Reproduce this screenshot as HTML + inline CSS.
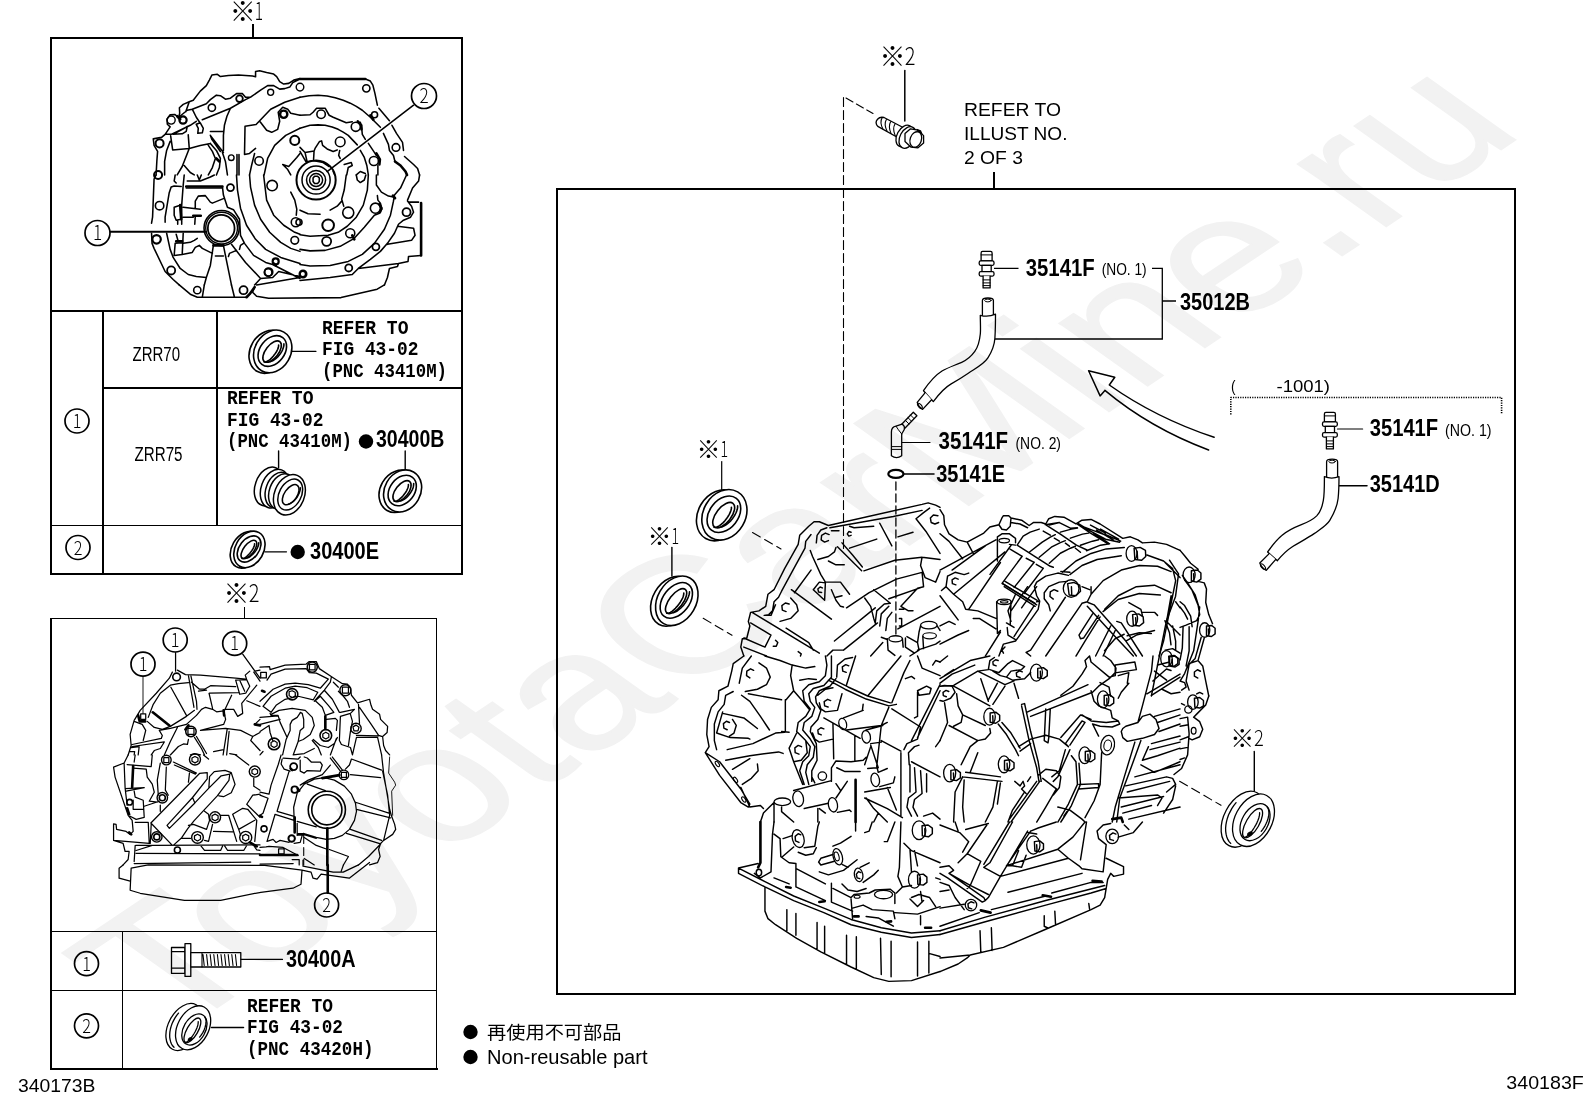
<!DOCTYPE html>
<html lang="ja"><head><meta charset="utf-8"><title>340173B</title>
<style>
html,body{margin:0;padding:0;background:#fff;}
body{width:1592px;height:1099px;overflow:hidden;}
svg{display:block;}
.s{font-family:"Liberation Sans","Noto Sans CJK JP",sans-serif;}
.m{font-family:"Liberation Mono",monospace;font-weight:bold;}
.b{font-family:"Liberation Sans",sans-serif;font-weight:bold;}
.ln{stroke:#000;fill:none;}
.d{stroke:#000;fill:none;stroke-width:1.3;stroke-linecap:round;stroke-linejoin:round;}
.d .w{fill:#fff;}
.d .k{fill:#000;}
</style></head><body>
<svg width="1592" height="1099" viewBox="0 0 1592 1099">
<rect width="1592" height="1099" fill="#fff"/>
<!-- frames -->
<g class="ln" stroke-width="2" shape-rendering="crispEdges">
<!-- box 1 -->
<path d="M51 37V575M50 574H462.500M50 38H462.500"/>
<line x1="461.700" y1="37" x2="461.700" y2="575" stroke-width="1.6"/>
<line x1="51" y1="311" x2="462" y2="311"/>
<line x1="103" y1="311" x2="103" y2="574"/>
<line x1="217" y1="311" x2="217" y2="525"/>
<line x1="103" y1="388" x2="462" y2="388"/>
<line x1="51" y1="525.5" x2="462" y2="525.5" stroke-width="1.2"/>
<line x1="253" y1="24" x2="253" y2="38" stroke-width="1.5"/>
<!-- box 2 -->
<path d="M51 618V1069.500M50 1068.500H437.500"/>
<path d="M50 618.500H437M436.500 618V1069" stroke-width="1.2"/>
<line x1="51" y1="931.500" x2="436" y2="931.500" stroke-width="1"/>
<line x1="51" y1="990.500" x2="436" y2="990.500" stroke-width="1"/>
<line x1="122.500" y1="931" x2="122.500" y2="1068" stroke-width="1"/>
<line x1="244.300" y1="607" x2="244.300" y2="619" stroke-width="1.5"/>
<!-- main box -->
<path d="M556.500 188V994.500M555.500 993.500H1516"/>
<path d="M555.500 189H1516M1515 188V994.500" stroke-width="1.6"/>
<line x1="994" y1="172" x2="994" y2="189" stroke-width="1.5"/>
</g>

<!-- box1 -->
<g class="d">
<g transform="translate(140 65) scale(0.10050)" stroke-width="15.42">
<path d="M160 1094 L168 950 L175 860 L140 800 L132 735 L215 720 L250 690 L300 615 L272 590 L268 540 L300 495 L345 492 L385 520 L395 480 L392 425 L430 392 L490 365 L530 350 L600 260 L660 205 L690 150 L715 100 L770 93 L800 115 L880 105 L980 100 L1120 110 L1150 117 L1150 65 L1190 58 L1260 75 L1330 90 L1360 115 L1390 165 L1430 190 L1480 183 L1530 150 L1592 135 M490 365 L455 465 M385 520 L470 450 L520 440 L660 385 L700 345 L760 300 L800 305 L850 340 L900 330 L960 285 L1020 285 L1050 320 L1100 320 L1200 250 L1270 205 L1330 205 L1390 240 L1440 235 L1490 220 L1520 175 L1592 140 M520 440 L560 520 L600 580 M620 545 L900 430 L1050 345 L1110 315 M250 690 L310 690 L460 620 L500 600 L560 560 M305 705 L325 845 L490 830 L480 695 M330 690 L440 630 L470 612 L460 660 L420 685 Z M560 590 L600 575 L630 630 L620 675 L575 680 L580 630 Z M300 760 L265 850 L245 960 L245 1094 M490 830 L600 800 L700 780 M490 830 L420 1010 L370 1094 M440 1000 L500 1070 L540 1094 M680 800 L720 860 L750 930 L720 1020 L680 1094 M700 780 L760 850 L800 930 L790 1020 L760 1094 M900 430 L865 510 L840 600 L830 700 L830 850 M820 870 L850 960 L870 1094 M700 662 L825 662 M700 700 L830 870 M715 740 L800 860 M700 700 L715 740 M965 890 L965 1094 M985 890 L985 1094 M1045 610 L1155 592 L1300 440 L1440 370 L1592 320 M1045 610 L1040 890 L1090 880 L1150 830 M1195 565 L1260 650 L1310 670 L1370 640 L1390 560 L1375 470 L1420 420 L1470 440 L1500 480 L1592 500 M1592 630 L1450 700 L1340 800 L1270 930 L1235 1094 M1140 880 L1110 1000 L1090 1094 M1592 880 L1560 920 L1480 1010 L1420 990 L1470 1040 L1500 1094"/>
<path d="M370 510 L400 540 M760 930 L790 960" stroke-width="25.9"/>
<circle cx="310" cy="548" r="40" stroke-width="13.9"/>
<circle cx="428" cy="548" r="36" stroke-width="21.9"/>
<circle cx="715" cy="425" r="36" stroke-width="15.9"/>
<circle cx="990" cy="335" r="33" stroke-width="17.9"/>
<circle cx="1300" cy="272" r="30" stroke-width="13.9"/>
<circle cx="1592" cy="220" r="38" stroke-width="13.9"/>
<circle cx="195" cy="780" r="40" stroke-width="19.9"/>
<circle cx="180" cy="1094" r="40" stroke-width="19.9"/>
<circle cx="1430" cy="490" r="36" stroke-width="23.9"/>
<circle cx="1540" cy="750" r="45" stroke-width="19.9"/>
<circle cx="908" cy="922" r="28" stroke-width="13.9"/>
<circle cx="1185" cy="955" r="42" stroke-width="15.9"/>
</g>
<g transform="translate(300 65) scale(0.10050)" stroke-width="15.42">
<path d="M650 140 L700 160 L725 200 L745 280 L770 400 M785 430 L890 555 M915 600 L960 680 L1020 770 L1030 850 M1040 910 L1130 990 L1170 1030 L1190 1094 M0 320 L90 305 L180 300 L270 308 L350 325 L430 350 L500 380 L560 412 L620 450 L700 520 L800 620 M830 680 L880 790 L890 850 L930 900 L945 960 M0 500 L100 495 L130 470 L165 430 L250 430 L290 500 L330 520 L460 575 L520 565 M600 570 L615 640 L620 690 L650 740 M0 630 L100 600 L180 596 L250 600 L320 616 L380 640 L430 668 L480 700 L570 795 M150 830 L195 760 L215 755 L225 800 L270 835 L330 860 L370 845 M395 850 L385 900 L400 930 M0 820 L50 870 L140 855 L150 830 M50 870 L70 960 M140 855 L135 940 M0 860 L60 965 L130 950 L230 970 L290 1010 M600 850 L640 920 L665 1000 L680 1094 M680 780 L740 870 L760 900 M775 1000 L775 1094 M440 990 L510 970 L520 1000 L480 1020 L465 1094 M330 1060 L345 1094 M560 1094 L600 1060 L650 1080 M1130 400 L270 1060"/>
<path d="M0 140 L650 140 M945 960 L1000 1000 L1050 1060 L1065 1094 M575 560 L610 600 L612 640 M760 880 L795 940 L790 990 M700 500 L730 545" stroke-width="25.9"/>
<circle cx="660" cy="232" r="36" stroke-width="15.9"/>
<circle cx="742" cy="495" r="30" stroke-width="15.9"/>
<circle cx="210" cy="490" r="42" stroke-width="15.9"/>
<circle cx="555" cy="615" r="45" stroke-width="15.9"/>
<circle cx="400" cy="765" r="48" stroke-width="15.9"/>
<circle cx="735" cy="955" r="45" stroke-width="15.9"/>
<circle cx="955" cy="820" r="38" stroke-width="15.9"/>
</g>
<g transform="translate(140 175) scale(0.10050)" stroke-width="15.42">
<path d="M160 0 L140 40 L130 300 L125 420 L115 480 M115 580 L120 680 L140 730 L250 960 L330 1040 L390 1094 M250 470 L250 420 L290 180 L310 120 L340 110 L410 115 M265 580 L300 740 L330 820 L400 930 L480 990 L560 1010 L660 1020 M350 0 L340 60 L360 80 M440 0 L430 100 L415 300 L415 490 M430 580 L420 790 M460 130 L820 130 M470 60 L600 60 L700 20 L740 0 M570 0 L590 50 L610 0 M550 330 L550 260 L580 210 L650 205 L700 270 L720 280 L830 235 M820 115 L830 200 L870 320 L930 345 L990 440 L1000 600 L1040 680 L1130 800 L1250 870 L1320 890 M340 320 L400 300 L410 440 L360 450 L340 400 Z M430 320 L600 340 M430 420 L530 420 M550 410 L545 490 M375 450 L375 490 M960 0 L970 150 L1000 330 L1060 500 L1150 640 L1250 740 L1400 820 L1592 880 M1090 0 L1100 120 L1140 300 L1200 440 L1290 570 L1400 670 L1500 730 L1592 760 M1230 0 L1260 250 L1330 400 L1430 500 L1540 570 L1592 590 M1500 170 L1540 250 L1560 340 L1555 400 M730 700 L700 900 L660 1020 L640 1094 M830 700 L850 800 L910 1094 M750 805 L830 805 M910 690 L1050 870 L1200 1030 L1140 1094 M880 810 L890 780 L960 750 M990 740 L1000 700 L1030 680 M350 680 L340 800 L420 790 L520 770 L550 720 L590 700 L620 730 L720 780 M430 680 L500 670 L540 650 L570 630 M350 680 L420 675 M360 590 L380 660 M1320 890 L1592 1030 M1200 1030 L1320 1020 L1380 960 L1592 1010 M1160 1094 L1592 1020"/>
<path d="M460 115 L820 115 M730 700 L830 700 M530 405 L605 405 M400 300 L410 440 M360 660 L420 660 M1330 880 L1350 900" stroke-width="25.9"/>
<circle cx="195" cy="305" r="42" stroke-width="15.9"/>
<circle cx="900" cy="125" r="35" stroke-width="17.9"/>
<circle cx="1315" cy="105" r="52" stroke-width="15.9"/>
<circle cx="1550" cy="470" r="45" stroke-width="15.9"/>
<circle cx="1540" cy="650" r="38" stroke-width="15.9"/>
<circle cx="165" cy="640" r="42" stroke-width="21.9"/>
<circle cx="310" cy="950" r="40" stroke-width="17.9"/>
<circle cx="1350" cy="860" r="30" stroke-width="21.9"/>
<circle cx="1275" cy="970" r="38" stroke-width="15.9"/>
<circle cx="812" cy="528" r="175" stroke-width="15.9"/>
<circle cx="812" cy="528" r="158" stroke-width="13.9"/>
<circle cx="808" cy="530" r="133" stroke-width="17.9"/>
</g>
<g transform="translate(300 175) scale(0.10050)" stroke-width="15.42">
<path d="M460 0 L440 150 L415 240 L435 310 M300 350 L370 310 L415 260 M0 350 L80 385 L200 390 M560 0 L570 50 L600 75 L640 50 L655 0 M680 0 L670 150 L630 300 L560 420 L470 510 L380 570 L280 600 L100 610 L0 595 M760 0 L760 100 L810 170 L880 210 L930 220 M1060 0 L1000 130 L940 200 L930 260 L900 400 L840 540 L740 680 L620 790 L480 860 L300 900 L100 905 L0 890 M770 205 L775 250 L800 280 L815 340 L790 380 L740 400 L640 520 L540 630 L400 710 L250 750 L100 755 L0 740 M1190 0 L1180 60 L1120 130 L1070 250 M1070 260 L1110 310 L1130 370 L1100 420 L1030 450 L980 490 L940 580 L870 680 L800 760 L700 840 L580 930 L520 990 L300 1020 L0 1050 M1080 270 L1180 270 M1205 800 L1080 810 L1075 860 L980 880 L970 910 L890 930 L870 1020 L840 1094 M580 930 L980 880 M970 510 L1130 530 L1145 600 L1110 650 L870 690 M130 30 L145 12 L175 12 L192 30 L192 65 L175 85 L145 85 L130 65 Z"/>
<path d="M1205 280 L1205 800 M790 290 L810 330 L795 370 M925 205 L945 230 M520 600 L540 640" stroke-width="25.9"/>
<circle cx="480" cy="375" r="55" stroke-width="15.9"/>
<circle cx="280" cy="500" r="58" stroke-width="19.9"/>
<circle cx="500" cy="580" r="45" stroke-width="15.9"/>
<circle cx="265" cy="660" r="45" stroke-width="17.9"/>
<circle cx="750" cy="330" r="50" stroke-width="15.9"/>
<circle cx="1060" cy="370" r="40" stroke-width="17.9"/>
<circle cx="755" cy="715" r="35" stroke-width="17.9"/>
<circle cx="485" cy="925" r="35" stroke-width="17.9"/>
<circle cx="30" cy="985" r="35" stroke-width="19.9"/>
<circle cx="-10" cy="470" r="30" stroke-width="15.9"/>
<circle cx="160" cy="50" r="195" stroke-width="19.9"/>
<circle cx="160" cy="50" r="140" stroke-width="14.9"/>
<circle cx="160" cy="50" r="95" stroke-width="14.9"/>
<circle cx="160" cy="50" r="65" stroke-width="14.9"/>
</g>
<g transform="translate(140 255) scale(0.20101)" stroke-width="7.71">
<path d="M195 149 L250 195 L285 210 L530 210 M320 149 L310 210 M455 149 L470 210 M570 160 L560 185 L580 205 L640 215 L1000 212 L1180 170 L1216 149"/>
<path d="M530 210 L545 195 L570 160" stroke-width="12.9"/>
<circle cx="285" cy="175" r="18" stroke-width="8.0"/>
<circle cx="515" cy="175" r="20" stroke-width="9.0"/>
<circle cx="640" cy="85" r="20" stroke-width="9.0"/>
<circle cx="810" cy="95" r="14" stroke-width="8.0"/>
</g>
</g>

<!-- box1parts -->
<g class="d">
<g stroke-width="1.6">
<ellipse class="w" cx="268.2" cy="351.8" rx="18.0" ry="22.5" transform="rotate(30 268.2 351.8)"/>
<ellipse class="w" cx="272.7" cy="351.4" rx="18.0" ry="22.3" transform="rotate(30 272.7 351.4)"/>
<ellipse class="w" cx="272.3" cy="351.0" rx="12.3" ry="17.0" transform="rotate(38 272.3 351.0)"/>
<ellipse class="w" cx="272.1" cy="351.6" rx="6.4" ry="12.6" transform="rotate(38 272.1 351.6)"/>
<polyline points="278.6,345.0 278.6,346.2 278.3,347.6 277.7,349.2 276.9,351.0 275.8,352.8 274.5,354.6 273.2,356.3 271.7,357.9 270.2,359.3 268.7,360.5 267.3,361.3 266.0,361.8 264.9,362.0 264.0,361.9"/>
<polyline points="283.9,343.9 283.9,345.3 283.6,346.8 283.1,348.3 282.5,350.0 281.7,351.6 280.7,353.2 279.5,354.8 278.3,356.3 276.9,357.6 275.5,358.9 274.1,359.9 272.7,360.7 271.3,361.3 270.0,361.7"/>
</g>
<line x1="292.0" y1="351.3" x2="316.0" y2="351.3" stroke-width="1.2"/>
<g stroke-width="1.5">
<ellipse class="w" cx="268.7" cy="486.5" rx="13.5" ry="20.0" transform="rotate(20 268.7 486.5)"/>
<ellipse class="w" cx="274.7" cy="488.7" rx="13.5" ry="20.0" transform="rotate(20 274.7 488.7)"/>
<ellipse class="w" cx="278.2" cy="490.1" rx="12.3" ry="18.3" transform="rotate(20 278.2 490.1)"/>
<ellipse class="w" cx="281.7" cy="491.5" rx="12.3" ry="18.3" transform="rotate(20 281.7 491.5)"/>
<ellipse class="w" cx="289.4" cy="494.8" rx="15.0" ry="21.0" transform="rotate(22 289.4 494.8)"/>
<ellipse class="w" cx="290.2" cy="494.6" rx="11.0" ry="16.5" transform="rotate(28 290.2 494.6)"/>
<ellipse class="w" cx="290.7" cy="494.7" rx="6.3" ry="11.5" transform="rotate(35 290.7 494.7)"/>
<polyline points="300.3,487.7 300.3,488.9 300.1,490.2 299.7,491.6 299.2,493.1 298.5,494.5 297.7,496.0 296.8,497.5 295.8,498.8 294.7,500.1 293.5,501.2 292.3,502.2 291.1,503.0 290.0,503.6 288.8,504.0"/>
</g>
<line x1="278.6" y1="451.0" x2="278.6" y2="467.5" stroke-width="1.4"/>
<g stroke-width="1.6">
<ellipse class="w" cx="398.1" cy="491.3" rx="18.0" ry="22.1" transform="rotate(30 398.1 491.3)"/>
<ellipse class="w" cx="402.6" cy="490.9" rx="18.0" ry="21.9" transform="rotate(30 402.6 490.9)"/>
<ellipse class="w" cx="402.2" cy="490.5" rx="12.3" ry="16.7" transform="rotate(38 402.2 490.5)"/>
<ellipse class="w" cx="402.0" cy="491.1" rx="6.4" ry="12.3" transform="rotate(38 402.0 491.1)"/>
<polyline points="408.4,484.6 408.4,485.8 408.1,487.2 407.5,488.8 406.7,490.6 405.7,492.3 404.4,494.1 403.1,495.8 401.6,497.4 400.1,498.7 398.7,499.8 397.3,500.7 396.0,501.2 394.9,501.3 394.1,501.2"/>
<polyline points="413.7,483.6 413.6,485.0 413.4,486.4 413.0,488.0 412.3,489.6 411.5,491.2 410.5,492.8 409.4,494.3 408.2,495.8 406.9,497.1 405.5,498.3 404.1,499.3 402.7,500.1 401.4,500.7 400.1,501.0"/>
</g>
<line x1="405.2" y1="451.0" x2="405.2" y2="469.5" stroke-width="1.4"/>
<g stroke-width="1.6">
<ellipse class="w" cx="245.9" cy="549.7" rx="14.2" ry="19.6" transform="rotate(30 245.9 549.7)"/>
<ellipse class="w" cx="249.4" cy="549.4" rx="14.2" ry="19.4" transform="rotate(30 249.4 549.4)"/>
<ellipse class="w" cx="249.1" cy="549.0" rx="9.7" ry="14.8" transform="rotate(38 249.1 549.0)"/>
<ellipse class="w" cx="248.9" cy="549.5" rx="5.1" ry="11.0" transform="rotate(38 248.9 549.5)"/>
<polyline points="254.6,543.7 254.5,544.7 254.2,545.9 253.7,547.3 252.9,548.8 252.0,550.4 250.9,551.9 249.7,553.5 248.4,554.8 247.1,556.1 245.9,557.1 244.7,557.9 243.6,558.3 242.7,558.5 242.0,558.4"/>
<polyline points="258.8,542.7 258.7,543.8 258.5,545.1 258.0,546.4 257.4,547.8 256.7,549.2 255.8,550.6 254.8,552.0 253.7,553.3 252.6,554.5 251.4,555.5 250.2,556.5 249.0,557.2 247.8,557.8 246.8,558.1"/>
</g>
<line x1="265.0" y1="551.8" x2="286.5" y2="551.8" stroke-width="1.2"/>
<line x1="110.5" y1="231.8" x2="206.0" y2="231.8" stroke-width="2"/>
</g>

<!-- box2 -->
<g class="d">
<g transform="translate(100 645) scale(0.10050)" stroke-width="12.44">
<path d="M405 685 L455 685 L455 740 L405 740 Z M340 750 L400 650 L560 480 L690 330 L720 270 M480 720 L530 590 L600 480 L700 400 L780 385 L880 375 M770 250 L850 295 L1000 300 L1350 330 L1450 340 M880 305 L935 620 M905 310 L960 560 L965 640 M705 420 L860 700 M470 760 L540 820 L620 840 L700 810 L860 710 L940 650 M910 370 L990 440 L1040 440 L1100 405 L1350 415 M980 460 L1060 450 M1090 480 L1380 475 M1085 480 L1120 630 M1310 500 L1240 650 M1350 350 L1460 345 L1490 410 L1450 480 L1390 490 Z M1390 350 L1440 460 M1460 345 L1445 300 L1490 260 M1010 640 L1050 620 L1120 640 L1160 665 L1230 655 M1230 650 L1250 740 L1230 790 L1000 850 M1240 640 L1330 640 L1370 710 L1420 680 L1410 580 L1560 400 M1460 555 L1592 610 M960 700 L1010 640 M960 700 L860 790 L700 830 L590 850 L620 900 L610 930 L320 990 M875 830 L935 830 L935 890 L875 890 Z M340 750 L300 890 L310 1000 L280 1094 M340 760 L420 790 L455 850 L430 950 M320 1010 L640 965 L600 1030 L540 1050 L510 1094 M770 820 L700 960 L640 1094 M700 1094 L780 1010 L830 985 L870 990 L880 940 M940 920 L1010 1030 L1040 1094 M960 910 L1060 1080 M1000 850 L1250 830 L1400 850 L1520 910 L1592 870 M1520 910 L1500 950 L1592 1050 M1265 840 L1225 1094 M1285 860 L1260 1094 M900 1094 L940 1080 L1000 1094 M1130 1060 L1230 1040 M1290 1080 L1360 1094 M1540 790 L1592 740 M310 1020 L390 1010 L380 1094 M300 1060 L345 1060 L340 1094 M1540 260 L1592 250 M752 75 L752 260 M1420 90 L1592 330 M1530 270 L1592 360"/>
<path d="M525 670 L690 800 M380 700 L395 760 L450 760 M880 800 L850 840 M1540 790 L1592 800 M1230 650 L1235 700" stroke-width="25.9"/>
<path d="M428 315 L428 680" stroke-width="9.0"/>
<circle cx="762" cy="318" r="38" stroke-width="15.9"/>
<circle cx="905" cy="860" r="52" stroke-width="14.9"/>
</g>
<g transform="translate(260 645) scale(0.10050)" stroke-width="12.44">
<path d="M0 220 L95 215 L100 245 L250 200 L460 190 L490 165 L560 165 L590 235 L720 320 L820 385 L870 390 L900 430 L910 500 L970 575 L1090 540 L1105 600 L1120 640 L1190 690 L1200 740 L1270 810 L1265 870 L1220 910 L1230 1000 L1250 1050 L1290 1094 M70 350 L110 290 L250 240 L460 235 L490 275 L560 280 L680 340 L600 430 L480 395 L350 380 L250 390 L130 440 L0 560 M492 192 L548 192 L548 248 L492 248 Z M7 272 L63 272 L63 328 L7 328 Z M820 420 L880 420 L880 480 L820 480 Z M30 610 L110 510 L250 430 L350 410 L470 425 L575 470 L530 545 L380 510 L250 540 L160 600 L110 670 Z M290 465 L320 455 L350 470 L352 505 L322 522 L290 505 Z M710 320 L700 370 L640 450 L540 560 M640 450 L720 540 L790 670 M600 510 L680 600 L735 670 L650 700 L620 620 L550 555 Z M110 690 L190 650 L320 630 L450 650 L520 720 L540 800 L500 890 L430 940 L380 960 M100 680 L110 700 L180 700 L200 770 L270 920 M0 720 L180 705 M0 860 L90 800 L100 870 L130 960 M0 790 L200 740 M400 670 L420 680 L435 740 L435 820 L400 850 L380 960 L330 1094 M400 675 L370 720 L320 750 L300 790 L300 850 L260 940 L225 1094 M660 740 L750 730 L770 750 L760 850 M800 710 L900 680 L940 640 L800 670 M800 710 L790 950 L810 990 L900 1020 L920 1094 M900 690 L920 760 L900 860 L880 1000 M625 885 L655 868 L685 885 L685 918 L655 935 L625 918 Z M530 940 L600 1000 L680 1020 L740 980 L770 920 M520 950 L580 1020 L610 1094 M925 815 L955 797 L985 818 L975 855 L935 855 Z M980 590 L990 780 M990 620 L1100 780 L1180 900 L1210 910 M960 900 L1180 905 M960 920 L1170 920 M960 920 L920 1094 M1170 920 L1210 1094 M780 460 L830 510 L870 560 L890 620 M730 370 L780 420 M110 970 L140 952 L170 970 L170 1003 L140 1020 L110 1003 Z M0 1094 L30 1060 M540 1030 L440 1080 L330 1094 M700 1094 L760 930"/>
<path d="M650 710 L650 830 M20 455 L45 465" stroke-width="25.9"/>
<circle cx="520" cy="220" r="50" stroke-width="14.9"/>
<circle cx="850" cy="450" r="55" stroke-width="13.9"/>
<circle cx="320" cy="490" r="56" stroke-width="15.9"/>
<circle cx="655" cy="900" r="58" stroke-width="15.9"/>
<circle cx="955" cy="830" r="52" stroke-width="13.9"/>
<circle cx="140" cy="985" r="58" stroke-width="15.9"/>
</g>
<g transform="translate(100 755) scale(0.10050)" stroke-width="12.44">
<path d="M506 677 L990 184 L1067 176 L1067 238 L921 423 L944 477 M506 677 L713 892 M921 423 L667 700 L690 730 L944 477 M944 477 L1083 330 L1090 215 L1137 165 L1244 153 L1306 176 L1344 292 L1306 376 L1229 415 L1183 407 M1083 330 L1206 207 L1291 190 L1283 253 L1167 407 L1037 546 L937 653 L875 730 L813 823 L737 892 M1306 176 L1291 190 M280 0 L240 80 L135 120 L150 220 L280 600 L320 650 L330 760 L300 790 L260 760 L165 740 L160 690 L135 685 L135 850 L230 880 L250 960 L290 960 L280 1040 L230 1094 M240 80 L250 330 L270 500 M270 95 L510 115 M250 335 L440 325 L260 360 M330 130 L460 140 L470 220 L520 290 L540 370 L490 460 L570 470 M340 360 L350 420 L430 450 L440 620 L360 640 L300 610 M330 450 L330 540 L430 540 M350 0 L340 70 M520 0 L510 110 M600 80 L570 250 L580 400 M660 120 L650 350 L680 400 M635 25 L685 25 L685 75 L635 75 Z M600 500 L600 560 M440 510 L590 460 M730 70 L960 180 M740 100 L950 190 M890 180 L880 270 M915 30 L945 15 L975 30 L975 62 L945 78 L915 62 Z M1030 0 L1080 40 M1040 560 L1080 590 L1090 650 L1060 740 L930 690 L880 700 M1115 605 L1145 588 L1175 605 L1175 638 L1145 655 L1115 638 Z M1120 690 L1080 860 L1040 850 M1200 600 L1280 600 L1360 860 M1130 760 L1320 765 M940 805 L970 788 L1000 805 L1000 838 L970 855 L940 838 Z M810 830 L900 830 M510 680 L500 880 M350 670 L480 670 L490 880 M135 850 L490 880 M1320 590 L1420 530 L1470 540 L1560 650 L1540 860 M1320 590 L1380 740 L1540 650 M1380 740 L1400 800 M1420 805 L1450 788 L1480 805 L1480 838 L1450 855 L1420 838 Z M1512 150 L1540 135 L1568 150 L1568 182 L1540 197 L1512 182 Z M1350 0 L1480 100 M1530 230 L1530 310 L1592 350 M1592 390 L1520 400 L1460 490 L1592 620 M360 900 L520 900 L1592 895 M360 950 L520 900 M360 980 L1592 985 M340 1080 L1500 1065 M350 900 L340 1060 M1000 900 L1040 950 L1200 950 L1220 905 M1240 905 L1270 950 L1430 950 L1460 900 M1530 900 L1560 945 L1592 950"/>
<path d="M330 110 L320 320 M270 530 L290 590 M1490 870 L1560 910 M290 770 L310 790" stroke-width="25.9"/>
<circle cx="295" cy="470" r="28" stroke-width="15.9"/>
<circle cx="660" cy="50" r="48" stroke-width="13.9"/>
<circle cx="620" cy="425" r="30" stroke-width="15.9"/>
<circle cx="620" cy="425" r="52" stroke-width="13.9"/>
<circle cx="945" cy="45" r="55" stroke-width="13.9"/>
<circle cx="1145" cy="620" r="55" stroke-width="13.9"/>
<circle cx="970" cy="820" r="58" stroke-width="13.9"/>
<circle cx="565" cy="815" r="30" stroke-width="15.9"/>
<circle cx="565" cy="815" r="52" stroke-width="13.9"/>
<circle cx="1450" cy="820" r="60" stroke-width="13.9"/>
<circle cx="1540" cy="165" r="55" stroke-width="13.9"/>
<circle cx="770" cy="945" r="30" stroke-width="15.9"/>
</g>
<g transform="translate(260 755) scale(0.10050)" stroke-width="12.44">
<path d="M340 640 L335 520 L370 380 L440 290 L540 240 L640 225 L740 250 L840 310 L910 390 L950 480 L960 560 L940 650 L890 740 L820 800 L740 830 L660 840 L560 820 L430 780 M1210 0 L1230 180 L1290 540 L1310 610 L1340 690 L1350 740 L1320 790 L1230 850 L1200 880 L1180 940 L1195 1010 L1170 1070 L1090 1094 M1220 160 L1270 400 L1290 600 L1230 850 M950 470 L1290 580 M960 540 L1300 625 M900 740 L1210 850 M860 780 L1200 885 M1200 885 L1080 1010 L980 1094 M690 940 L880 1010 L830 1094 M910 40 L1210 150 M900 195 L1200 225 M910 40 L890 100 L850 140 M810 173 L860 173 L860 223 L810 223 Z M700 30 L800 160 M720 20 L820 150 M400 300 L480 250 L620 195 L700 100 M470 290 L650 355 M210 0 L180 100 L110 300 M290 160 L170 560 L340 610 M230 30 L380 40 L400 20 M220 40 L210 90 L240 140 L300 160 M400 50 L400 160 L440 180 L470 155 L600 160 L620 100 L600 70 L510 70 L470 30 L440 20 M0 370 L90 390 L110 300 M0 400 L80 430 L30 580 L0 600 M150 590 L340 650 M150 590 L70 860 M370 660 L560 715 M370 680 L370 800 M70 860 L130 840 L160 870 L200 850 L290 870 M340 880 L400 870 L420 800 M0 920 L60 915 L90 910 L230 920 L380 1000 M185 935 L240 935 L240 985 L185 985 Z M320 1040 L390 1040 L390 1094 M0 1085 L330 1080 M440 820 L560 900 L660 935 M430 790 L560 830 M440 1030 L540 1094"/>
<path d="M670 730 L670 1094 M620 230 L790 200 M345 620 L345 770 M380 790 L430 790 M0 995 L370 995 M375 335 L390 355 M0 605 L20 615 M305 135 L320 150" stroke-width="25.9"/>
<path d="M1290 20 L1280 180 L1340 270 L1350 300 L1310 360 L1320 600" stroke-width="9.0"/>
<path d="M435 800 L435 1094" stroke-width="10.9" stroke-dasharray="80 40"/>
<circle cx="665" cy="545" r="185" stroke-width="15.9"/>
<circle cx="665" cy="545" r="150" stroke-width="15.9"/>
<circle cx="835" cy="198" r="48" stroke-width="12.9"/>
<circle cx="335" cy="115" r="35" stroke-width="17.9"/>
<circle cx="345" cy="345" r="32" stroke-width="17.9"/>
<circle cx="40" cy="735" r="30" stroke-width="15.9"/>
<circle cx="315" cy="830" r="32" stroke-width="19.9"/>
</g>
<g transform="translate(100 840) scale(0.20101)" stroke-width="6.22">
<path d="M155 140 L150 250 L200 265 L420 300 L600 300 L800 260 L960 240 L1000 220 L1005 150 M155 140 L240 124 L820 126 L1005 150 M115 124 L95 140 L95 190 L150 205 M1341 112 L1240 190 L1100 170 L1080 195 L1060 190 L1050 160 L1005 150 M1286 124 L1210 160 L1160 160 L1010 130 L1010 100 M1211 124 L1200 155"/>
<path d="M1133 124 L1133 262" stroke-width="12.9"/>
</g>
</g>

<!-- box2parts -->
<g class="d">
<path class="w" d="M171.5 947.5H185V973.4H171.5Z"/>
<path d="M171.5 951.6H185M171.5 968.2H185"/>
<path class="w" d="M185 943.6H190.8V976.4H185Z"/>
<path class="w" d="M190.8 952.6H240.8V967H190.8Z"/>
<path d="M202 952.6V967 M203.0 954.5l1.2 11 M206.6 954.5l1.2 11 M210.2 954.5l1.2 11 M213.8 954.5l1.2 11 M217.4 954.5l1.2 11 M221.0 954.5l1.2 11 M224.6 954.5l1.2 11 M228.2 954.5l1.2 11 M231.8 954.5l1.2 11 M235.4 954.5l1.2 11" stroke-width="1.1"/>
<line x1="241.0" y1="959.4" x2="282.5" y2="959.4" stroke-width="1.2"/>
<ellipse class="w" cx="184.3" cy="1027.0" rx="16.0" ry="25.2" transform="rotate(28 184.3 1027.0)"/>
<ellipse class="w" cx="193.1" cy="1027.8" rx="15.5" ry="23.5" transform="rotate(28 193.1 1027.8)"/>
<polyline points="174.0,1047.3 172.6,1045.8 171.5,1044.0 170.7,1041.9 170.1,1039.6 169.7,1037.2 169.7,1034.5 169.9,1031.8 170.4,1029.0 171.2,1026.1 172.2,1023.3 173.5,1020.6 175.0,1017.9 176.7,1015.4 178.5,1013.1"/>
<ellipse class="w" cx="194.4" cy="1029.5" rx="10.9" ry="16.8" transform="rotate(30 194.4 1029.5)"/>
<ellipse class="w" cx="192.4" cy="1030.4" rx="5.5" ry="13.9" transform="rotate(30 192.4 1030.4)"/>
<polyline points="198.2,1021.6 198.2,1022.8 198.0,1024.2 197.6,1026.0 196.9,1027.9 196.0,1029.9 195.0,1032.0 193.8,1034.0 192.6,1035.9 191.3,1037.7 189.9,1039.3 188.7,1040.5 187.5,1041.5 186.4,1042.1 185.5,1042.3"/>
<polyline points="204.6,1016.9 205.2,1017.7 205.6,1018.7 205.9,1019.9 206.1,1021.2 206.0,1022.7 205.8,1024.2 205.5,1025.8 205.0,1027.5 204.4,1029.2 203.7,1030.9 202.8,1032.6 201.8,1034.2 200.8,1035.7 199.6,1037.1"/>
<ellipse class="k" cx="190.2" cy="1039.2" rx="2.0" ry="1.2" transform="rotate(-30 190.2 1039.2)"/>
<line x1="211.5" y1="1027.6" x2="243.5" y2="1027.6" stroke-width="1.5"/>
</g>

<!-- main -->
<g class="d">
<g transform="translate(700 490) scale(0.15106)" stroke-width="9.60">
<path d="M755 210 L720 240 L660 300 L650 360 L560 520 L490 660 L450 690 L435 770 L390 800 L335 810 L320 870 L330 900 L310 980 L280 985 L270 1040 L290 1099 M755 210 L790 210 L850 235 L1470 95 L1510 85 L1560 100 L1589 115 M860 250 L1280 175 L1470 135 M870 270 L920 270 M735 295 L700 340 L695 385 L610 540 L540 670 L520 710 L490 740 L480 800 L455 825 L425 830 M770 350 L775 300 L800 265 L840 250 M855 295 L830 285 L805 300 L802 330 L825 345 L850 335 M1000 280 L985 275 L975 290 L985 305 L1000 300 M1575 170 L1545 165 L1525 185 L1530 215 L1555 225 L1580 215 M1430 190 L1480 150 L1520 120 M1430 190 L1500 280 L1589 420 M730 400 L745 440 L800 560 L830 610 M780 460 L850 440 L890 410 L900 380 M850 470 L900 495 L955 495 M910 375 L1070 535 M940 350 L1010 430 L1075 510 M1085 535 L1290 465 L1470 445 L1589 460 M990 385 L1170 325 M1190 220 L1270 370 M990 240 L1020 250 L1150 240 M1310 310 L1410 280 M790 610 L830 615 L825 730 L750 660 Z M810 648 L795 642 L780 655 L785 675 L805 678 M830 610 L930 610 L990 690 M870 660 L900 730 L930 770 L950 775 M900 710 L940 700 M735 530 L625 680 M605 660 L870 855 M600 715 L640 760 L650 800 L600 850 L530 870 M590 755 L565 748 L542 765 L545 795 L570 805 M425 830 L470 830 L500 760 M345 810 L790 1080 M570 915 L720 1010 L750 1060 M335 880 L470 960 L430 1040 L290 980 M290 1040 L440 1099 M500 995 L515 1010 L505 1035 L485 1035 M970 780 L1120 680 L1300 590 L1470 545 M1150 660 L1260 750 M1090 715 L1130 770 L1150 850 L1160 880 M1470 445 L1460 500 L1490 580 L1560 610 L1589 540 M1470 545 L1480 640 L1250 720 M1330 770 L1440 650 L1480 640 M1330 770 L1380 800 L1410 800 M1160 880 L1170 800 L1220 755 L1260 750 M1190 900 L1200 820 L1250 770 M1230 930 L1240 850 L1270 810 M890 1000 L1160 780 M950 1060 L1175 880 M840 1099 L880 1060 L950 1060 M1320 790 L1350 790 M1320 850 L1335 850 L1335 900 L1320 900 M1310 920 L1589 770 M1240 985 L1245 1060 L1290 1095 M1340 985 L1345 1040 M1200 975 L1240 990 M1130 1099 L1210 1010 M1370 970 L1440 1010 L1450 1060 L1390 1099 M1360 980 L1360 1040 L1420 1080 M1460 900 L1450 940 L1440 1010 M1570 900 L1589 930 M1475 970 L1480 1050 M1440 1060 L1560 1020 L1589 1000 M650 1070 L670 1085 L665 1099"/>
<ellipse cx="1295" cy="985" rx="45" ry="20" transform="rotate(0 1295 985)" stroke-width="8.6"/>
<ellipse cx="1515" cy="895" rx="55" ry="25" transform="rotate(0 1515 895)" stroke-width="8.6"/>
<ellipse cx="1520" cy="965" rx="45" ry="20" transform="rotate(0 1520 965)" stroke-width="7.9"/>
</g>
<g transform="translate(940 490) scale(0.15106)" stroke-width="9.60">
<path d="M0 130 L25 170 L30 230 L60 290 L120 330 L180 345 L290 285 L330 245 L390 230 M180 345 L220 420 M0 290 L60 340 L150 455 M390 230 L410 185 L420 170 L455 170 L470 185 L465 240 L440 265 L410 260 Z M470 185 L540 200 L590 235 M470 215 L530 225 L580 250 M590 235 L620 215 L670 215 L700 225 L720 190 L760 175 L820 180 L900 225 L940 200 L1000 195 L1060 225 L1210 320 L1260 310 L1310 330 L1340 350 M380 470 L380 310 L410 290 L460 290 L500 320 L500 350 M460 360 L500 365 M300 370 L80 530 M0 530 L55 500 L370 330 M50 570 L100 545 L160 560 L190 550 M50 570 L40 640 L10 665 M120 590 L100 582 L80 595 L82 620 L105 628 M40 640 L90 690 L430 410 M90 690 L150 740 L170 790 L250 800 L370 850 M190 790 L400 480 M0 700 L120 860 M0 900 L60 870 L100 890 M220 850 L260 850 L370 920 M0 1020 L120 960 L190 930 M375 740 L380 950 M470 740 L465 890 M380 950 L400 930 M440 880 L490 910 M445 910 L450 960 L500 990 M415 620 L640 760 M425 640 L630 770 M640 740 L660 735 L650 790 L500 1000 L420 1020 L390 1099 M620 770 L490 970 M300 1099 L400 940 M500 690 L450 800 L470 870 M580 640 L470 800 M640 640 L540 780 M430 1040 L410 1060 L420 1080 M810 545 L900 470 L1000 420 L1100 390 L1220 380 M800 540 L860 545 M860 560 L940 500 L1040 460 L1200 435 M625 640 L640 610 L700 570 L780 550 L850 565 M625 640 L640 700 L660 735 M690 720 L690 680 L720 640 L790 610 L840 605 M690 720 L720 760 L730 800 M780 670 L755 660 L730 675 L728 705 L750 722 M845 620 L885 612 L925 630 L930 670 L900 700 L855 695 Z M870 640 L872 690 M1000 690 L1080 600 L1200 530 L1320 500 L1440 505 L1530 540 M1000 640 L1000 690 L975 740 M940 640 L990 660 M1090 790 L1180 700 L1300 640 L1420 630 L1530 680 M1230 1000 L1300 960 L1420 930 M830 710 L600 1060 L570 1075 L600 1099 M940 750 L700 1099 M975 740 L940 750 M980 745 L1020 760 L1170 930 L1230 1000 L1300 1099 M975 770 L1140 950 L1280 1099 M1010 820 L920 960 L930 985 L950 980 L1050 830 M1060 840 L960 1000 L900 1099 M1130 900 L1030 1099 M1160 930 L1080 1099 M1170 870 L1200 880 L1340 1099 M1285 385 L1325 380 L1360 400 L1362 440 L1335 465 L1290 460 Z M1305 405 L1308 455 M1340 350 L1420 345 L1500 360 L1589 400 M1370 430 L1480 470 L1540 520 L1560 600 L1540 700 L1480 1000 L1450 1099 M1490 480 L1589 580 M1530 700 L1500 870 L1589 960 M1275 825 L1315 820 L1345 840 L1348 878 L1320 900 L1280 895 Z M1295 845 L1298 890 M1250 745 L1330 790 L1340 830 M1340 810 L1420 810 L1440 830 M1589 780 L1560 740 M1490 1060 L1540 1050 L1589 1080 M1540 900 L1560 1000 L1560 1060"/>
<ellipse cx="425" cy="335" rx="35" ry="15" transform="rotate(0 425 335)" stroke-width="7.9"/>
<ellipse cx="425" cy="740" rx="47" ry="18" transform="rotate(0 425 740)" stroke-width="8.6"/>
<ellipse cx="425" cy="740" rx="25" ry="8" transform="rotate(0 425 740)" stroke-width="7.3"/>
<ellipse cx="868" cy="652" rx="52" ry="58" transform="rotate(0 868 652)" stroke-width="8.6"/>
<ellipse cx="1268" cy="420" rx="36" ry="52" transform="rotate(0 1268 420)" stroke-width="8.6"/>
<ellipse cx="1272" cy="852" rx="36" ry="50" transform="rotate(0 1272 852)" stroke-width="8.6"/>
</g>
<g transform="translate(990 505) scale(0.10050)" stroke-width="14.43">
<path d="M550 195 L690 175 L800 230 L870 225 M690 175 L590 200 M880 185 L1000 260 L1150 340 L1290 370 M900 205 L1280 350 M1030 280 L1180 380 M1060 250 L1230 350 M1100 240 L1280 340 M1000 200 L1150 280 M1140 290 L1300 360 M270 400 L330 310 L400 270 L490 240 M390 470 L520 370 L600 320 L650 295 M490 520 L610 420 L700 375 L750 355 M590 580 L700 480 L800 430 L850 410 M600 300 L530 260 M640 330 L690 360 M750 380 L790 410 M850 430 L900 470 M700 270 L810 240 L870 230 M800 330 L920 290 L980 280 M900 400 L1020 360 L1080 345 M960 455 L1100 400 L1190 385 M560 200 L700 290 L860 400 L970 450 M870 190 L1000 280 L1180 390 M270 400 L600 610 L630 620 M200 440 L320 510 M360 530 L440 570 M460 590 L530 630 M320 510 L120 780 M440 570 L240 820 M530 630 L340 880 M210 400 L0 690 M120 780 L450 980 M150 760 L470 950"/>
</g>
<g transform="translate(1100 530) scale(0.15106)" stroke-width="9.60">
<path d="M530 135 L560 170 L600 220 L650 260 M605 270 L645 265 L668 285 L668 325 L640 345 L605 338 Z M620 290 L622 335 M650 340 L690 350 L705 390 L700 480 L720 560 L745 620 M545 300 L580 350 L630 430 L655 510 M560 330 L610 400 L650 500 L660 560 L640 600 L570 630 L530 645 M660 510 L650 600 L620 800 L560 950 L530 1000 M705 635 L740 632 L762 650 L762 688 L738 705 L705 700 Z M718 655 L720 695 M690 715 L650 860 M670 710 L630 850 L590 890 M600 880 L650 865 L680 900 L700 1000 L720 1099 M590 890 L570 1000 L590 1060 M665 935 L645 925 L625 940 L625 968 L648 980 M640 1085 L660 1075 L680 1085 M530 510 L560 550 L580 590 M530 475 L560 500 L600 570 L610 640 M590 640 L590 800 L570 900 M550 640 L545 780 L530 860 M530 1000 L560 1010 L570 1040 L540 1060"/>
<ellipse cx="590" cy="297" rx="40" ry="52" transform="rotate(0 590 297)" stroke-width="8.6"/>
<ellipse cx="693" cy="662" rx="34" ry="48" transform="rotate(0 693 662)" stroke-width="8.6"/>
</g>
<g transform="translate(1100 530) scale(0.15106)" stroke-width="9.60">
<path d="M20 540 L120 460 L260 420 L400 430 M460 200 L520 290 L500 440 L440 600 L400 800 L340 1099 M430 600 L460 680 L470 760 M180 700 L260 680 L340 685 M30 800 L100 720 L160 690 M455 835 L490 830 L515 850 L515 885 L490 902 L458 896 Z M350 1000 L440 920 L470 930 M0 1010 L60 1040 L70 1099"/>
<ellipse cx="440" cy="852" rx="38" ry="54" transform="rotate(0 440 852)" stroke-width="8.6"/>
</g>
<g transform="translate(700 656) scale(0.15106)" stroke-width="9.60">
<path d="M290 0 L220 50 L210 100 L185 200 L125 230 L120 290 L75 340 L50 420 L45 520 L60 600 L35 640 M35 640 L130 790 L270 970 L320 1000 L330 980 L270 880 L130 700 Z M340 0 L280 80 L260 180 M220 235 L170 260 L160 320 L120 370 L95 450 L95 560 L110 620 M355 95 L335 85 L310 100 L308 130 L330 145 M390 45 L440 80 L465 140 L440 190 L380 220 L300 235 M430 0 L530 30 L610 60 L700 80 L760 70 M610 60 L600 130 L620 230 L680 300 L720 350 M660 160 L720 150 L770 155 M275 260 L330 300 L400 400 L440 460 L460 490 M320 250 L540 290 M570 290 L620 230 M565 290 L565 500 M540 500 L590 505 M150 370 L110 510 L200 540 L320 545 L330 550 M150 380 L290 410 L380 480 M195 440 L175 432 L155 448 L158 478 L180 488 M215 420 L240 460 L225 510 L195 530 M180 620 L350 580 L500 510 L560 505 M170 690 L330 660 L520 635 L550 645 M215 750 L330 680 M380 715 L385 760 L340 810 L280 850 M270 870 L330 1000 M830 0 L840 60 L830 130 L790 170 L720 190 L680 230 L690 300 L730 350 L700 400 L650 440 L640 500 L700 560 L730 600 L720 660 L680 700 L660 760 L690 850 M870 0 L870 140 L820 195 L750 215 L720 250 L730 300 L760 340 L740 400 L690 440 L680 490 L730 550 L760 600 L750 670 L710 720 L700 770 L720 850 M900 150 L860 200 L790 230 L765 270 L770 310 L800 360 L780 420 L735 470 L730 500 L770 580 L775 690 L740 760 L740 830 M640 510 L590 610 L620 700 L670 690 L710 640 L700 560 M620 700 L680 850 M672 600 L650 592 L628 608 L630 640 L655 650 M790 310 L800 350 L830 370 L910 360 L940 250 M780 260 L830 220 L880 210 M865 295 L845 287 L822 302 L825 330 L848 338 M745 510 L760 550 L790 570 L880 550 M820 482 L800 475 L780 490 L783 515 L803 522 M740 800 L760 840 M880 445 L885 680 M820 410 L1060 545 M1025 530 L1025 690 M950 410 L1080 360 M970 490 L1200 460 L1240 440 M1100 490 L1210 460 M1130 580 L1200 570 M850 160 L960 220 L1100 285 L1250 330 L1300 320 M870 150 L980 205 L1110 265 L1260 310 M1030 0 L970 190 M1330 0 L1110 265 M1390 30 L1350 110 L1270 310 M1080 320 L1075 360 M985 65 L965 57 L942 72 L945 100 L968 108 M905 140 L910 60 L960 20 L1010 10 M1250 340 L1200 460 L1170 730 L1180 770 M1270 350 L1460 470 M1200 560 L1330 630 M1330 640 L1330 1060 M1130 590 L1180 740 M1130 600 L1090 720 M1110 745 L1170 740 M870 830 L870 740 L900 695 L1000 700 L1080 690 L1100 670 M905 740 L960 765 L1060 765 M1180 770 L1240 745 M1190 865 L1280 840 L1290 800 M620 890 L870 825 M690 1010 L850 975 M900 940 L975 830 M900 845 L930 890 M910 1035 L990 1020 L1000 1030 M1090 900 L1260 870 M1090 940 L1240 1010 L1340 1070 M1100 940 L1150 1010 L1240 1099 M1240 870 L1300 1020 M1180 1040 L1150 1099 M490 970 L490 1099 M540 1000 L540 1030 L620 1099 M400 1099 L420 1040 L490 970 M330 1000 L400 990 L420 1010 M780 1010 L780 1099 M790 1010 L830 1040 M1440 0 L1470 80 L1589 130 M1540 60 L1560 30 L1589 40 M1440 230 L1500 200 L1530 215 L1520 250 L1450 260 Z M1440 240 L1440 400 L1420 410 M1589 190 L1400 560 M1589 230 L1440 540 M1360 150 L1400 135 L1420 150 M1350 620 L1370 580 L1440 550 L1460 470 M1385 720 L1380 640 L1420 600 L1450 590 M1589 560 L1560 600 M1400 700 L1589 800 M1420 740 L1430 900 L1380 940 L1370 1000 L1400 1060 M1460 760 L1470 910 L1420 950 L1410 1000 L1440 1060 M1500 780 L1500 900 M1390 720 L1390 900 M1480 1060 L1540 1040 L1589 1080"/>
<path d="M1030 820 L1030 1099" stroke-width="17.2"/>
<circle cx="810" cy="795" r="28" stroke-width="8.6"/>
<ellipse cx="945" cy="450" rx="25" ry="38" transform="rotate(-15 945 450)" stroke-width="8.6"/>
<ellipse cx="1100" cy="535" rx="28" ry="42" transform="rotate(-10 1100 535)" stroke-width="8.6"/>
<ellipse cx="1160" cy="820" rx="28" ry="45" transform="rotate(-10 1160 820)" stroke-width="8.6"/>
<ellipse cx="650" cy="945" rx="35" ry="52" transform="rotate(-10 650 945)" stroke-width="8.6"/>
<ellipse cx="880" cy="985" rx="30" ry="48" transform="rotate(-10 880 985)" stroke-width="8.6"/>
<ellipse cx="545" cy="965" rx="55" ry="25" transform="rotate(0 545 965)" stroke-width="8.6"/>
<ellipse cx="115" cy="715" rx="10" ry="20" transform="rotate(-35 115 715)" stroke-width="7.3"/>
<ellipse cx="235" cy="820" rx="10" ry="20" transform="rotate(-35 235 820)" stroke-width="7.3"/>
<ellipse cx="290" cy="950" rx="10" ry="20" transform="rotate(-35 290 950)" stroke-width="7.3"/>
</g>
<g transform="translate(940 656) scale(0.15106)" stroke-width="9.60">
<path d="M0 150 L200 30 L330 0 M0 180 L80 120 L230 60 M30 130 L90 90 M0 40 L50 0 M0 200 L90 195 L250 100 L320 90 L330 30 L360 10 M330 90 L390 110 L450 50 L480 30 L560 70 L540 90 L470 100 L440 140 L400 130 L350 100 M385 30 L368 25 L350 38 L352 58 L372 65 M545 105 L525 98 L505 112 L508 135 L530 142 M440 140 L480 160 L560 150 L600 110 M250 100 L430 190 L490 165 M490 180 L520 280 M270 150 L320 300 M380 180 L320 290 M430 200 L350 320 M0 200 L30 195 L80 200 L100 240 L70 280 L20 300 L0 295 M58 235 L40 228 L20 240 L22 262 L42 270 M90 200 L330 330 M110 250 L120 330 L150 390 L140 440 L90 465 M30 310 L50 440 L0 560 M60 460 L250 560 L300 550 L335 510 L330 480 M150 390 L300 460 M250 560 L200 600 L140 720 M250 640 L200 770 M150 800 L410 830 M170 770 L400 800 M150 800 L100 900 L90 1099 M160 820 L150 1000 L160 1099 M380 830 L350 1000 L300 1099 M400 840 L380 980 M385 450 L440 520 L500 620 L520 660 M410 440 L470 510 L530 610 M540 320 L560 315 L600 500 L650 700 L670 830 M540 330 L590 560 L640 740 L655 830 M580 370 L980 190 M600 400 L1010 240 M800 260 L880 200 L940 120 L970 70 L960 30 L990 0 M1010 240 L1050 200 L1120 150 L1160 110 L1160 60 M990 0 L1000 40 L1120 140 L1160 130 L1165 80 L1130 30 L1090 0 M1160 60 L1290 40 L1300 90 L1170 110 M1180 130 L1250 110 L1240 180 M700 350 L690 560 L715 575 L720 540 L730 350 M520 600 L600 550 L700 525 L790 550 L850 600 M530 630 L600 580 M850 600 L830 580 L940 430 L960 440 L860 590 M800 540 L930 390 L1000 420 M940 390 L1000 430 L1100 440 L1180 430 L1190 450 L1140 470 L1060 465 L1010 450 M1130 360 L1140 410 L1180 430 M1050 330 L1130 360 M1000 230 L1020 300 L1050 330 M1010 450 L1050 530 M830 620 L790 760 L740 800 M860 620 L780 800 L750 830 M870 660 L900 700 L910 850 L850 980 L780 1099 M920 710 L930 850 L870 990 L800 1099 M920 850 L1050 845 L1050 870 L920 880 M1070 640 L1060 850 L1020 960 L960 1070 M650 790 L700 750 L770 760 L800 800 L790 870 L750 920 M680 810 L770 880 L700 1000 L640 1099 M660 830 L470 1099 M640 830 L460 1080 M495 830 L530 860 L550 830 L560 860 L540 880 L570 910 M560 900 L480 1020 L450 1099 M600 800 L580 830 M780 1000 L860 1020 L940 1080 L960 1099 M840 1030 L820 1060 M1210 480 L1230 465 L1310 440 L1340 400 L1390 385 L1430 420 L1450 480 L1420 520 L1340 545 L1240 565 L1210 540 L1200 500 Z M1410 0 L1400 100 L1340 330 L1310 440 M1250 180 L1200 240 L1180 280 M1589 120 L1370 250 M1589 140 L1400 260 M1420 100 L1500 160 M1440 60 L1520 40 M1470 220 L1530 250 L1589 240 M1420 400 L1589 350 M1440 440 L1589 390 M1450 500 L1589 450 M1400 580 L1589 530 M1390 620 L1589 570 M1340 690 L1440 660 L1589 610 M1330 720 L1420 770 L1589 700 M1290 800 L1589 720 M1230 860 L1500 800 L1540 810 L1560 850 L1500 900 M1240 900 L1520 830 M1180 940 L1440 920 L1470 940 L1440 990 M1200 1000 L1480 930 M1210 1040 L1400 990 M1250 1080 L1589 1000 M1560 860 L1540 950 L1480 1040 M1290 570 L1220 800 L1160 1000 L1140 1099 M1330 560 L1250 780 L1190 940 L1170 1099 M1380 600 L1340 690 M647 82 L684 77 L710 97 L710 132 L684 150 L647 144 Z M664 100 L666 140 M332 377 L369 372 L395 392 L395 427 L369 445 L332 439 Z M349 395 L351 435 M1087 262 L1124 257 L1150 277 L1150 312 L1124 330 L1087 324 Z M1104 280 L1106 320 M427 692 L464 687 L490 707 L490 742 L464 760 L427 754 Z M444 710 L446 750 M962 632 L999 627 L1025 647 L1025 682 L999 700 L962 694 Z M979 650 L981 690 M72 757 L109 752 L135 772 L135 807 L109 825 L72 819 Z M89 775 L91 815 M1520 5 L1557 0 L1583 20 L1583 55 L1557 73 L1520 67 Z M1537 23 L1539 63"/>
<path d="M1140 1080 L1200 1070 L1210 1099" stroke-width="17.2"/>
<ellipse cx="638" cy="110" rx="40" ry="56" transform="rotate(0 638 110)" stroke-width="8.6"/>
<ellipse cx="328" cy="402" rx="38" ry="56" transform="rotate(0 328 402)" stroke-width="8.6"/>
<ellipse cx="1080" cy="287" rx="38" ry="56" transform="rotate(0 1080 287)" stroke-width="8.6"/>
<ellipse cx="424" cy="717" rx="38" ry="56" transform="rotate(0 424 717)" stroke-width="8.6"/>
<ellipse cx="958" cy="657" rx="38" ry="56" transform="rotate(0 958 657)" stroke-width="8.6"/>
<ellipse cx="64" cy="775" rx="40" ry="58" transform="rotate(0 64 775)" stroke-width="8.6"/>
<ellipse cx="1110" cy="590" rx="45" ry="65" transform="rotate(10 1110 590)" stroke-width="8.6"/>
<ellipse cx="1110" cy="592" rx="25" ry="36" transform="rotate(10 1110 592)" stroke-width="7.3"/>
</g>
<g transform="translate(1100 696) scale(0.15106)" stroke-width="9.60">
<path d="M720 0 L700 60 L640 120 L620 140 M540 50 L560 60 M620 140 L660 170 L680 220 L660 270 L610 290 L590 280 M530 150 L580 140 L590 250 L580 390 L540 480 L490 520 M530 200 L585 190 M530 290 L585 270 M530 350 L580 340 M530 420 L560 410 M625 15 L660 10 L685 30 L685 65 L660 80 L628 75 Z"/>
<circle cx="585" cy="90" r="24" stroke-width="8.6"/>
<ellipse cx="615" cy="40" rx="35" ry="48" transform="rotate(0 615 40)" stroke-width="8.6"/>
<ellipse cx="620" cy="230" rx="16" ry="22" transform="rotate(0 620 230)" stroke-width="7.9"/>
</g>
<g transform="translate(700 822) scale(0.15106)" stroke-width="9.60">
<path d="M490 0 L480 80 L470 330 L400 370 L360 340 M385 275 L255 305 L255 340 L430 430 L620 520 L820 600 L1000 680 L1200 730 L1400 765 L1589 745 M255 305 L430 395 L620 490 L820 570 L1000 645 L1200 700 L1400 735 L1589 720 M430 430 L430 590 L450 640 L500 680 L640 770 L800 860 L1000 960 L1150 1030 L1250 1055 L1400 1050 L1589 990 M575 580 L575 720 M635 605 L635 750 M775 665 L775 840 M825 690 L825 865 M970 750 L970 945 M1035 760 L1035 970 M1195 770 L1200 1010 M1265 790 L1265 1025 M1440 795 L1440 1020 M1515 790 L1515 1000 M1515 870 L1589 890 M490 80 L530 110 L535 230 L590 270 L635 275 L635 430 L830 520 M640 310 L830 410 M870 405 L870 530 L1010 590 M880 440 L1000 500 M490 370 L590 410 M550 110 L610 90 M545 230 L620 165 M690 170 L760 160 L780 30 L790 0 M650 200 L700 220 L750 210 L770 170 M668 85 L650 78 L630 95 L632 125 L655 135 M880 215 L800 240 L785 265 L800 285 L890 260 M880 160 L930 140 L1000 95 M790 330 L850 350 L950 320 L1040 250 M940 280 L980 300 M1060 300 L1120 270 M1080 400 L1150 350 L1180 320 M940 410 L980 450 L1040 460 L1100 440 M1065 335 L1050 328 L1035 345 L1040 370 L1058 375 M1000 500 L1020 480 L1120 470 L1160 450 L1260 445 L1290 470 L1290 540 M1000 510 L1010 640 M1010 570 L1080 550 L1140 580 L1280 590 L1290 640 M1100 625 L1180 635 L1280 690 M1300 470 L1340 430 L1400 420 M1440 350 L1478 345 L1502 365 L1502 400 L1478 418 L1442 412 Z M1455 370 L1457 408 M1030 0 L1030 60 M1140 0 L1120 60 L1090 70 M1290 0 L1240 130 L1220 130 M1330 0 L1320 300 L1310 360 L1340 430 M1350 140 L1400 190 L1589 270 M1390 180 L1400 330 M1420 190 L1440 290 M1470 25 L1510 20 L1538 40 L1538 78 L1512 98 L1472 92 Z M1488 45 L1490 88 M1400 500 L1450 480 L1520 500 L1560 560 M1390 510 L1440 560 L1480 520 M1460 460 L1470 530 M1290 600 L1440 610 L1589 560 M1460 620 L1460 680 M1560 370 L1589 380"/>
<path d="M400 0 L400 270 L385 300 M570 430 L600 435 M790 530 L825 525 M1020 625 L1050 625 M1235 660 L1265 658 M1490 700 L1530 700" stroke-width="17.2"/>
<ellipse cx="650" cy="110" rx="38" ry="60" transform="rotate(-15 650 110)" stroke-width="8.6"/>
<ellipse cx="912" cy="230" rx="30" ry="55" transform="rotate(-15 912 230)" stroke-width="8.6"/>
<ellipse cx="905" cy="228" rx="15" ry="30" transform="rotate(-15 905 228)" stroke-width="7.3"/>
<ellipse cx="1050" cy="350" rx="28" ry="45" transform="rotate(-10 1050 350)" stroke-width="8.6"/>
<ellipse cx="1215" cy="480" rx="60" ry="28" transform="rotate(0 1215 480)" stroke-width="8.6"/>
<ellipse cx="1040" cy="495" rx="20" ry="10" transform="rotate(0 1040 495)" stroke-width="7.3"/>
<ellipse cx="1420" cy="382" rx="40" ry="56" transform="rotate(0 1420 382)" stroke-width="8.6"/>
<ellipse cx="1450" cy="55" rx="45" ry="62" transform="rotate(0 1450 55)" stroke-width="8.6"/>
<ellipse cx="390" cy="335" rx="18" ry="22" transform="rotate(0 390 335)" stroke-width="9.9"/>
</g>
<g transform="translate(940 822) scale(0.15106)" stroke-width="9.60">
<path d="M0 745 L300 660 L700 550 L1000 470 L1100 440 M0 720 L300 630 L700 520 L1090 420 M0 690 L260 600 M340 580 L700 490 M740 470 L1000 400 L1080 400 M450 465 L940 340 M0 990 L120 940 L180 900 L200 880 M0 900 L200 880 L420 830 L700 710 L1000 580 L1060 550 L1090 500 L1100 440 M265 720 L270 860 M340 700 L345 850 M690 620 L690 690 L710 700 M760 590 L765 680 M985 540 L990 575 M1100 440 L1110 380 L1130 340 L1150 360 L1215 345 L1215 295 L1100 240 M1040 60 L1080 20 L1130 10 M1040 60 L1050 110 L1100 150 L1080 330 L940 310 L920 290 M1180 100 L1280 70 L1340 0 M1220 20 L1250 50 M1165 80 L1145 72 L1122 88 L1125 115 L1148 122 M970 0 L930 250 M920 290 L850 240 L780 180 M400 360 L850 240 M440 290 L780 180 L880 100 L960 0 M625 130 L660 125 L685 145 L685 180 L660 198 L628 192 Z M640 150 L642 188 M580 70 L640 80 M520 190 L480 290 L540 300 L570 220 M480 290 L440 290 M600 60 L440 290 M580 60 L400 360 M770 0 L650 40 L600 60 M480 0 L330 270 L290 300 L400 360 L320 500 L300 520 M460 0 L290 280 M310 20 L180 210 L120 270 M180 210 L270 260 L200 420 L180 440 M0 20 L130 70 L190 130 L150 200 M100 0 L120 60 M170 50 L320 10 M0 300 L60 290 L90 320 L60 340 L290 500 L300 520 L280 530 L50 370 L0 340 M60 340 L200 420 M0 400 L60 420 L100 500 L160 580 M200 420 L320 480 M225 535 L205 528 L185 542 L188 568 L210 575 M0 570 L160 545 M0 460 L60 450"/>
<path d="M270 585 L335 600 M680 485 L735 495 M1010 390 L1070 395" stroke-width="17.2"/>
<circle cx="205" cy="550" r="38" stroke-width="8.6"/>
<ellipse cx="618" cy="152" rx="44" ry="60" transform="rotate(0 618 152)" stroke-width="8.6"/>
<ellipse cx="1140" cy="95" rx="42" ry="48" transform="rotate(0 1140 95)" stroke-width="8.6"/>
</g>
</g>

<!-- mainparts -->
<g class="d">
<line x1="904.8" y1="70.5" x2="904.8" y2="121.0" stroke-width="1.5"/>
<path d="M843.5 97.5V549" stroke-dasharray="9 4" stroke-width="1.1"/>
<path d="M846 98L873 113.5" stroke-dasharray="8 4" stroke-width="1.1"/>
<line x1="721.7" y1="461.5" x2="721.7" y2="489.5" stroke-width="1.2"/>
<g stroke-width="1.6">
<ellipse class="w" cx="719.1" cy="515.3" rx="21.1" ry="26.8" transform="rotate(30 719.1 515.3)"/>
<ellipse class="w" cx="724.4" cy="514.8" rx="21.1" ry="26.5" transform="rotate(30 724.4 514.8)"/>
<ellipse class="w" cx="723.9" cy="514.3" rx="14.4" ry="20.2" transform="rotate(38 723.9 514.3)"/>
<ellipse class="w" cx="723.7" cy="515.1" rx="7.5" ry="15.0" transform="rotate(38 723.7 515.1)"/>
<polyline points="731.4,507.2 731.4,508.6 731.0,510.3 730.3,512.2 729.3,514.3 728.0,516.5 726.6,518.6 724.9,520.7 723.2,522.6 721.4,524.2 719.6,525.6 717.9,526.6 716.4,527.2 715.1,527.5 714.1,527.3"/>
<polyline points="737.6,505.9 737.6,507.5 737.3,509.3 736.7,511.1 735.9,513.0 734.9,515.0 733.7,516.9 732.4,518.8 730.9,520.6 729.3,522.2 727.6,523.6 726.0,524.8 724.3,525.8 722.7,526.6 721.1,527.0"/>
</g>
<path d="M752.5 532.5L781 549" stroke-dasharray="9 5" stroke-width="1.1"/>
<line x1="671.9" y1="547.5" x2="671.9" y2="576.0" stroke-width="1.4"/>
<g stroke-width="1.6">
<ellipse class="w" cx="671.9" cy="601.3" rx="19.3" ry="26.5" transform="rotate(30 671.9 601.3)"/>
<ellipse class="w" cx="676.8" cy="600.8" rx="19.3" ry="26.3" transform="rotate(30 676.8 600.8)"/>
<ellipse class="w" cx="676.3" cy="600.4" rx="13.2" ry="20.1" transform="rotate(38 676.3 600.4)"/>
<ellipse class="w" cx="676.1" cy="601.1" rx="6.8" ry="14.9" transform="rotate(38 676.1 601.1)"/>
<polyline points="683.8,593.1 683.7,594.5 683.3,596.2 682.6,598.1 681.5,600.1 680.3,602.2 678.8,604.3 677.1,606.4 675.4,608.3 673.7,609.9 672.0,611.3 670.4,612.4 668.9,613.0 667.7,613.3 666.7,613.1"/>
<polyline points="689.5,591.8 689.4,593.3 689.0,595.0 688.4,596.8 687.6,598.7 686.6,600.6 685.4,602.6 684.1,604.4 682.6,606.2 681.0,607.8 679.4,609.2 677.8,610.5 676.2,611.5 674.6,612.2 673.1,612.7"/>
</g>
<path d="M703.2 618.3L732 635.3" stroke-dasharray="9 5" stroke-width="1.1"/>
<line x1="1254.3" y1="751.5" x2="1254.3" y2="791.0" stroke-width="1.4"/>
<ellipse class="w" cx="1243.0" cy="819.2" rx="19.0" ry="30.0" transform="rotate(28 1243.0 819.2)"/>
<ellipse class="w" cx="1253.5" cy="820.2" rx="18.5" ry="28.0" transform="rotate(28 1253.5 820.2)"/>
<polyline points="1230.7,843.4 1229.1,841.6 1227.8,839.4 1226.8,837.0 1226.1,834.2 1225.7,831.3 1225.6,828.2 1225.9,824.9 1226.5,821.6 1227.4,818.2 1228.6,814.8 1230.2,811.6 1231.9,808.4 1233.9,805.4 1236.1,802.7"/>
<ellipse class="w" cx="1255.0" cy="822.2" rx="13.0" ry="20.0" transform="rotate(30 1255.0 822.2)"/>
<ellipse class="w" cx="1252.6" cy="823.2" rx="6.5" ry="16.5" transform="rotate(30 1252.6 823.2)"/>
<polyline points="1259.6,812.7 1259.6,814.2 1259.3,815.9 1258.8,818.0 1258.0,820.2 1257.0,822.6 1255.7,825.1 1254.3,827.5 1252.8,829.8 1251.3,832.0 1249.7,833.8 1248.2,835.3 1246.8,836.4 1245.5,837.1 1244.5,837.4"/>
<polyline points="1267.2,807.1 1267.9,808.1 1268.4,809.3 1268.7,810.7 1268.9,812.3 1268.9,814.0 1268.6,815.9 1268.2,817.8 1267.7,819.8 1266.9,821.8 1266.0,823.8 1265.0,825.8 1263.9,827.7 1262.6,829.6 1261.2,831.3"/>
<ellipse class="k" cx="1250.0" cy="833.7" rx="2.4" ry="1.4" transform="rotate(-30 1250.0 833.7)"/>
<path d="M1179.6 781.3L1221 805.3" stroke-dasharray="9 5" stroke-width="1.1"/>
<path d="M994 268.3H1018.5M1152 268.3H1162.3V339H994.5M1162.3 301H1176" stroke-width="1.3" stroke-linecap="butt" stroke-linejoin="miter"/>
<line x1="902.0" y1="442.5" x2="930.0" y2="442.5" stroke-width="1.2"/>
<line x1="904.0" y1="474.0" x2="934.0" y2="474.0" stroke-width="1.5"/>
<line x1="1337.5" y1="429.0" x2="1362.6" y2="429.0" stroke-width="1.2"/>
<line x1="1339.0" y1="485.8" x2="1367.0" y2="485.8" stroke-width="1.5"/>
<path d="M1230.8 414.5V397.5H1501.6V414.5" stroke-width="1.6" stroke-dasharray="1.2 1.2" stroke-linecap="butt"/>
<path d="M895.9 482V637" stroke-dasharray="8 4" stroke-width="1.3"/>
<ellipse cx="895.9" cy="473.9" rx="7.6" ry="4" stroke-width="2.2"/>
<path class="w" d="M981.1 252.9q0-1.5 1.5-1.5h8q1.5 0 1.5 1.5V260.9H981.1Z"/>
<path d="M981.1 254.9H992.1" stroke-width="1"/>
<rect class="w" x="979.2" y="260.9" width="14.8" height="4.4" rx="1.5"/>
<rect class="w" x="982.0" y="265.3" width="9.2" height="6.4"/>
<rect class="w" x="979.2" y="271.7" width="14.8" height="4.4" rx="1.5"/>
<path class="w" d="M983.1 276.1V287.9H990.1V276.1"/>
<path d="M983.1 279.9H990.1M983.1 282.9H990.1M983.1 285.6H990.1" stroke-width="1"/>
<path class="w" d="M1324.4 413.9q0-1.5 1.5-1.5h8q1.5 0 1.5 1.5V421.9H1324.4Z"/>
<path d="M1324.4 415.9H1335.4" stroke-width="1"/>
<rect class="w" x="1322.5" y="421.9" width="14.8" height="4.4" rx="1.5"/>
<rect class="w" x="1325.3" y="426.3" width="9.2" height="6.4"/>
<rect class="w" x="1322.5" y="432.7" width="14.8" height="4.4" rx="1.5"/>
<path class="w" d="M1326.4 437.1V448.9H1333.4V437.1"/>
<path d="M1326.4 440.9H1333.4M1326.4 443.9H1333.4M1326.4 446.6H1333.4" stroke-width="1"/>
<path class="w" d="M982.4 316V300.5q0-2.5 5.5-2.5t5.5 2.5V316"/>
<ellipse cx="987.9" cy="300.5" rx="3.2" ry="1.4" stroke-width="1"/>
<path class="w" d="M980.3 315.3C980.3 322 980.8 330 980.3 334C979.5 342 978 347 974.8 351.4C970 358 966 360.5 961.7 362.3C953 366 948 367.5 942 371C934 376 928 384 923.5 390.7L933.3 401.6C939 394 944 388 950.8 384.1C958 380 962 377.5 968.3 373.2C977 367.5 984 364 987.9 357.9C993 350 994.5 344 994.9 338.3C995.4 330 995.5 322 995.5 314.2Q988 317.5 980.3 315.3Z"/>
<path class="w" d="M925.2 392.6L917.2 402.3Q918.5 407 922.6 409.4L931.6 399.7"/>
<ellipse cx="919.9" cy="405.9" rx="1.6" ry="3.2" transform="rotate(-40 919.9 405.9)" stroke-width="1"/>
<path class="w" d="M1326.6 477V461.7q0-2.5 5.5-2.5t5.5 2.5V477"/>
<ellipse cx="1332.1" cy="461.6" rx="3.2" ry="1.4" stroke-width="1"/>
<path class="w" d="M1324.4 476.6C1324.4 486 1324.5 494 1323.3 500.7C1322 508 1320.5 512 1316.7 515.9C1312 520.5 1307 522.5 1301.4 524.7C1293 528 1287 531 1281.8 535.6C1276 540.5 1271.5 546.5 1267.6 552L1277.4 560.7C1282 555 1286.5 550.5 1292.7 546.5C1300 542 1307 538.5 1314.5 533.4C1322 528 1327 525 1329.8 520.3C1334.5 512.5 1337.3 506 1338.1 498.5C1338.9 491 1339 484 1339 476.6Q1331.7 479.5 1324.4 476.6Z"/>
<path class="w" d="M1269.2 553.6L1259.8 563Q1261.5 568 1266.3 570.3L1275.8 559.4"/>
<ellipse cx="1263" cy="566.7" rx="1.6" ry="3.4" transform="rotate(-40 1263 566.7)" stroke-width="1"/>
<path d="M1109.3 385L1114.8 377.3L1088.6 370.7L1100.1 395.9L1104.9 390.4M1109.3 385Q1156 418 1214.1 437.3M1104.9 390.4Q1150 428 1208.6 450" stroke-width="1.5"/>
<path class="w" d="M913.3 412.2l3.6 3.6l-13.5 14l-3.6-3.6Z"/>
<path d="M910.5 415l3.6 3.6M908 417.7l3.6 3.6M905.4 420.4l3.6 3.6" stroke-width="1"/>
<path class="w" d="M891.4 432Q891.4 427 896 426.2L902 424.2Q905.5 426 904 430L901.7 434V455.8Q896.5 459.5 891.4 455.8Z"/>
<path d="M891.4 446.6H901.7M891.4 449.4H901.7M896 426.2Q898 429.5 901.7 434" stroke-width="1"/>
<path class="w" d="M877.5 119.2Q874.5 122.5 877.8 126.4L899.5 138.5L905 128.5L884 117.5Q880 116.5 877.5 119.2Z"/>
<path d="M882.2 117.6Q879.5 122 882.8 128.8M886.4 119.5Q883.7 124 887 131M890.6 121.8Q888 126.5 891 133.4M895 124Q892.2 128.5 895.2 135.6" stroke-width="1.1"/>
<ellipse class="w" cx="904.5" cy="136.0" rx="7.5" ry="11.5" transform="rotate(28 904.5 136.0)"/>
<ellipse class="w" cx="907.5" cy="137.5" rx="7.5" ry="11.5" transform="rotate(28 907.5 137.5)"/>
<path class="w" d="M905 133.5L910.5 128.8L918 130.2L923.6 135.6V143L918 147.8L910.8 147L905 141.5Z"/>
<ellipse class="w" cx="915.8" cy="139.5" rx="5.6" ry="8.0" transform="rotate(20 915.8 139.5)"/>
<path class="k" d="M917 129.5l3.5 1.3l1.2 3l-3.2-2.4Z"/>
</g>

<!-- text -->
<g fill="#000">
<text x="229.7" y="20.9" font-size="26" font-family="'Noto Sans CJK JP',sans-serif">※</text>
<text x="254.8" y="19.7" font-size="24" font-family="'Noto Sans CJK JP','Liberation Sans',sans-serif" font-weight="300" textLength="8.3" lengthAdjust="spacingAndGlyphs">1</text>
<circle cx="97.5" cy="233" r="12.5" fill="none" stroke="#000" stroke-width="1.7"/>
<text x="97.5" y="240.4" font-size="20.4" text-anchor="middle" font-family="'Noto Sans CJK JP','Liberation Sans',sans-serif" font-weight="300" textLength="9.2" lengthAdjust="spacingAndGlyphs">1</text>
<circle cx="424" cy="96" r="12.5" fill="none" stroke="#000" stroke-width="1.7"/>
<text x="424" y="103.4" font-size="20.4" text-anchor="middle" font-family="'Noto Sans CJK JP','Liberation Sans',sans-serif" font-weight="300" textLength="9.2" lengthAdjust="spacingAndGlyphs">2</text>
<circle cx="77" cy="421" r="12" fill="none" stroke="#000" stroke-width="1.7"/>
<text x="77" y="428.0" font-size="19.4" text-anchor="middle" font-family="'Noto Sans CJK JP','Liberation Sans',sans-serif" font-weight="300" textLength="8.7" lengthAdjust="spacingAndGlyphs">1</text>
<circle cx="78" cy="547.5" r="12" fill="none" stroke="#000" stroke-width="1.7"/>
<text x="78" y="554.5" font-size="19.4" text-anchor="middle" font-family="'Noto Sans CJK JP','Liberation Sans',sans-serif" font-weight="300" textLength="8.7" lengthAdjust="spacingAndGlyphs">2</text>
<text class="s" x="132.5" y="361" font-size="20" textLength="47.5" lengthAdjust="spacingAndGlyphs">ZRR70</text>
<text class="s" x="134.5" y="461" font-size="20" textLength="48" lengthAdjust="spacingAndGlyphs">ZRR75</text>
<text class="m" x="322" y="334" font-size="19.6" textLength="86.5" lengthAdjust="spacingAndGlyphs">REFER TO</text>
<text class="m" x="322" y="355.3" font-size="19.6" textLength="96.5" lengthAdjust="spacingAndGlyphs">FIG 43-02</text>
<text class="m" x="322" y="376.6" font-size="19.6" textLength="125" lengthAdjust="spacingAndGlyphs">(PNC 43410M)</text>
<text class="m" x="227" y="404.3" font-size="19.6" textLength="86.5" lengthAdjust="spacingAndGlyphs">REFER TO</text>
<text class="m" x="227" y="425.5" font-size="19.6" textLength="96.5" lengthAdjust="spacingAndGlyphs">FIG 43-02</text>
<text class="m" x="227" y="446.7" font-size="19.6" textLength="125" lengthAdjust="spacingAndGlyphs">(PNC 43410M)</text>
<circle cx="366" cy="441.5" r="7.2" fill="#000"/>
<text class="b" x="376" y="446.5" font-size="23.2" textLength="68.5" lengthAdjust="spacingAndGlyphs">30400B</text>
<circle cx="297.7" cy="552" r="7.2" fill="#000"/>
<text class="b" x="310" y="558.6" font-size="23.2" textLength="69" lengthAdjust="spacingAndGlyphs">30400E</text>
<text x="223.4" y="603.4" font-size="26" font-family="'Noto Sans CJK JP',sans-serif">※</text>
<text x="248.8" y="602.2" font-size="24" font-family="'Noto Sans CJK JP','Liberation Sans',sans-serif" font-weight="300" textLength="10.7" lengthAdjust="spacingAndGlyphs">2</text>
<circle cx="143" cy="664.2" r="12" fill="none" stroke="#000" stroke-width="1.7"/>
<text x="143" y="671.2" font-size="19.4" text-anchor="middle" font-family="'Noto Sans CJK JP','Liberation Sans',sans-serif" font-weight="300" textLength="8.7" lengthAdjust="spacingAndGlyphs">1</text>
<circle cx="175.2" cy="640" r="12" fill="none" stroke="#000" stroke-width="1.7"/>
<text x="175.2" y="647.0" font-size="19.4" text-anchor="middle" font-family="'Noto Sans CJK JP','Liberation Sans',sans-serif" font-weight="300" textLength="8.7" lengthAdjust="spacingAndGlyphs">1</text>
<circle cx="234.7" cy="643.4" r="12" fill="none" stroke="#000" stroke-width="1.7"/>
<text x="234.7" y="650.4" font-size="19.4" text-anchor="middle" font-family="'Noto Sans CJK JP','Liberation Sans',sans-serif" font-weight="300" textLength="8.7" lengthAdjust="spacingAndGlyphs">1</text>
<circle cx="326.6" cy="905" r="12" fill="none" stroke="#000" stroke-width="1.7"/>
<text x="326.6" y="912.0" font-size="19.4" text-anchor="middle" font-family="'Noto Sans CJK JP','Liberation Sans',sans-serif" font-weight="300" textLength="8.7" lengthAdjust="spacingAndGlyphs">2</text>
<circle cx="86.5" cy="963.6" r="12" fill="none" stroke="#000" stroke-width="1.7"/>
<text x="86.5" y="970.6" font-size="19.4" text-anchor="middle" font-family="'Noto Sans CJK JP','Liberation Sans',sans-serif" font-weight="300" textLength="8.7" lengthAdjust="spacingAndGlyphs">1</text>
<circle cx="86.5" cy="1025.8" r="12" fill="none" stroke="#000" stroke-width="1.7"/>
<text x="86.5" y="1032.8" font-size="19.4" text-anchor="middle" font-family="'Noto Sans CJK JP','Liberation Sans',sans-serif" font-weight="300" textLength="8.7" lengthAdjust="spacingAndGlyphs">2</text>
<text class="b" x="286" y="967" font-size="23.2" textLength="69.5" lengthAdjust="spacingAndGlyphs">30400A</text>
<text class="m" x="247" y="1011.6" font-size="19.6" textLength="86" lengthAdjust="spacingAndGlyphs">REFER TO</text>
<text class="m" x="247" y="1033.2" font-size="19.6" textLength="96" lengthAdjust="spacingAndGlyphs">FIG 43-02</text>
<text class="m" x="247" y="1054.8" font-size="19.6" textLength="126.5" lengthAdjust="spacingAndGlyphs">(PNC 43420H)</text>
<text class="s" x="18" y="1092" font-size="18.5" textLength="77.5" lengthAdjust="spacingAndGlyphs">340173B</text>
<text class="s" x="1506.3" y="1088.7" font-size="18.5" textLength="77.5" lengthAdjust="spacingAndGlyphs">340183F</text>
<circle cx="470.5" cy="1032" r="7.2" fill="#000"/>
<circle cx="470.5" cy="1057" r="7.2" fill="#000"/>
<text class="s" x="487" y="1039" font-size="18" textLength="134.5" lengthAdjust="spacingAndGlyphs">再使用不可部品</text>
<text class="s" x="487" y="1064" font-size="21" textLength="160.5" lengthAdjust="spacingAndGlyphs">Non-reusable part</text>
<text x="879.4" y="65.7" font-size="26" font-family="'Noto Sans CJK JP',sans-serif">※</text>
<text x="904.8" y="64.5" font-size="24" font-family="'Noto Sans CJK JP','Liberation Sans',sans-serif" font-weight="300" textLength="10.7" lengthAdjust="spacingAndGlyphs">2</text>
<text class="s" x="964" y="116.4" font-size="18.5" textLength="97" lengthAdjust="spacingAndGlyphs">REFER TO</text>
<text class="s" x="964" y="140" font-size="18.5" textLength="103.5" lengthAdjust="spacingAndGlyphs">ILLUST NO.</text>
<text class="s" x="964" y="163.8" font-size="18.5" textLength="59" lengthAdjust="spacingAndGlyphs">2 OF 3</text>
<text class="b" x="1025.7" y="275.5" font-size="23.5" textLength="69" lengthAdjust="spacingAndGlyphs">35141F</text>
<text class="s" x="1101.7" y="274.5" font-size="16.5" textLength="45" lengthAdjust="spacingAndGlyphs">(NO. 1)</text>
<text class="b" x="1180" y="309.5" font-size="23.5" textLength="70" lengthAdjust="spacingAndGlyphs">35012B</text>
<text class="b" x="938.6" y="449.3" font-size="23.5" textLength="69.5" lengthAdjust="spacingAndGlyphs">35141F</text>
<text class="s" x="1015.5" y="448.5" font-size="16.5" textLength="45.5" lengthAdjust="spacingAndGlyphs">(NO. 2)</text>
<text class="b" x="936.2" y="482" font-size="23.5" textLength="69" lengthAdjust="spacingAndGlyphs">35141E</text>
<text class="s" x="1231" y="392" font-size="16" textLength="4.5" lengthAdjust="spacingAndGlyphs">(</text>
<text class="s" x="1276.5" y="392" font-size="16" textLength="53.5" lengthAdjust="spacingAndGlyphs">-1001)</text>
<text class="b" x="1369.7" y="436.3" font-size="23.5" textLength="68.5" lengthAdjust="spacingAndGlyphs">35141F</text>
<text class="s" x="1445" y="435.5" font-size="16.5" textLength="46.5" lengthAdjust="spacingAndGlyphs">(NO. 1)</text>
<text class="b" x="1369.7" y="492.2" font-size="23.5" textLength="70" lengthAdjust="spacingAndGlyphs">35141D</text>
<text x="696.6" y="457.7" font-size="24" font-family="'Noto Sans CJK JP',sans-serif">※</text>
<text x="720.5" y="456.6" font-size="22" font-family="'Noto Sans CJK JP','Liberation Sans',sans-serif" font-weight="300" textLength="7.6" lengthAdjust="spacingAndGlyphs">1</text>
<text x="647.6" y="544.7" font-size="24" font-family="'Noto Sans CJK JP',sans-serif">※</text>
<text x="671.5" y="543.6" font-size="22" font-family="'Noto Sans CJK JP','Liberation Sans',sans-serif" font-weight="300" textLength="7.6" lengthAdjust="spacingAndGlyphs">1</text>
<text x="1230.2" y="746.7" font-size="24" font-family="'Noto Sans CJK JP',sans-serif">※</text>
<text x="1254.1" y="745.6" font-size="22" font-family="'Noto Sans CJK JP','Liberation Sans',sans-serif" font-weight="300" textLength="9.8" lengthAdjust="spacingAndGlyphs">2</text>
</g>

<!-- watermark -->
<g transform="scale(1.592,1.099)" style="mix-blend-mode:multiply"><text class="s" transform="translate(500,500) rotate(-44.07)" x="2" y="46.5" text-anchor="middle" font-size="150" fill="#f2f2f2" stroke="#f2f2f2" stroke-width="1.4" stroke-linejoin="miter">ToyotaCarMine.ru</text></g>

</svg>
</body></html>
